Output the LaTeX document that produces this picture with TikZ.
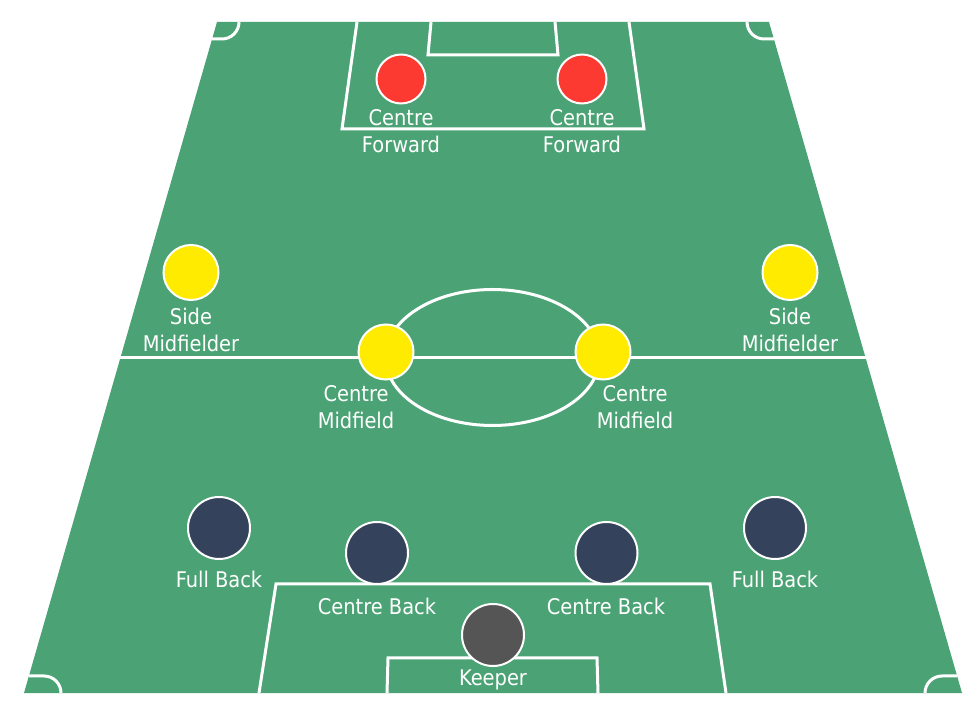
\documentclass[tikz,border=0pt]{standalone}
\usepackage{fontspec}
\setmainfont{DejaVu Sans Condensed}
\usepackage{xcolor}
\usetikzlibrary{calc}
\definecolor{pitchGreen}{HTML}{4BA375}
\definecolor{kitRed}{HTML}{FC3A31}
\definecolor{kitYellow}{HTML}{FFEB00}
\definecolor{kitNavy}{HTML}{35425C}
\definecolor{kitGrey}{HTML}{555555}

\begin{document}
\begin{tikzpicture}[x=0.5pt, y=-0.5pt]
        % Styles
        \tikzstyle{pitchline} = [draw=white, line width=1.5pt]
        \tikzstyle{player} = [circle, draw=white, line width=1pt, inner sep=0pt]
        \tikzstyle{forward} = [player, fill=kitRed, minimum size=24.5pt]
        \tikzstyle{midfield} = [player, fill=kitYellow, minimum size=27.5pt]
        \tikzstyle{defender} = [player, fill=kitNavy, minimum size=31pt]
        \tikzstyle{keeper} = [player, fill=kitGrey, minimum size=31pt]
        \tikzstyle{role} = [text=white, align=center, inner sep=0pt, font=\fontsize{10.8pt}{13.5pt}\selectfont]

        \useasboundingbox (0,0) rectangle (980,715);

        % Pitch
        \coordinate (tl) at (217,22);
        \coordinate (tr) at (769,22);
        \coordinate (br) at (962,693);
        \coordinate (bl) at (24,693);
        \fill[pitchGreen] (tl) -- (tr) -- (br) -- (bl) -- cycle;

        % Markings
        \draw[pitchline] ($(tl)!0.5007!(bl)$) -- ($(tr)!0.5007!(br)$);
        \draw[pitchline] (492.5,357.5) ellipse [x radius=53.5pt, y radius=34pt];
        \draw[pitchline] (357,22) -- (342,129) -- (644,129) -- (629,22);
        \draw[pitchline] (431,22) -- (428,55) -- (558,55) -- (555,22);
        \draw[pitchline] (259,693) -- (276,584) -- (710,584) -- (726,693);
        \draw[pitchline] (387,693) -- (388,658) -- (597,658) -- (598,693);
        \draw[pitchline] (239,22) arc[start angle=0, end angle=-90, radius=8.5pt] -- (212,39);
        \draw[pitchline] (747,22) arc[start angle=180, end angle=270, radius=8.5pt] -- (774,39);
        \draw[pitchline] (61,693) arc[start angle=0, end angle=90, radius=8.5pt] -- (29,676);
        \draw[pitchline] (925,693) arc[start angle=180, end angle=90, radius=8.5pt] -- (957,676);

        % Players
        \node[forward] (fw1) at (401,79) {};
        \node[forward] (fw2) at (582,79) {};
        \node[midfield] (sm1) at (191,272.5) {};
        \node[midfield] (sm2) at (790,272.5) {};
        \node[midfield] (cm1) at (386,352) {};
        \node[midfield] (cm2) at (603,352) {};
        \node[defender] (fb1) at (219,528) {};
        \node[defender] (cb1) at (377,553) {};
        \node[defender] (cb2) at (606.5,553) {};
        \node[defender] (fb2) at (775,528) {};
        \node[keeper] (gk) at (493,635) {};

        % Roles
        \node[role] (fw1txt) at (401,131.3) {Centre\\Forward};
        \node[role] (fw2txt) at (582,131.3) {Centre\\Forward};
        \node[role] (sm1txt) at (191,330.3) {Side\\Midfielder};
        \node[role] (sm2txt) at (790,330.3) {Side\\Midfielder};
        \node[role] (cm1txt) at (356,407.3) {Centre\\Midfield};
        \node[role] (cm2txt) at (635,407.3) {Centre\\Midfield};
        \node[role, anchor=base] (fb1txt) at (219,588) {Full Back};
        \node[role, anchor=base] (cb1txt) at (377,615) {Centre Back};
        \node[role, anchor=base] (cb2txt) at (606,615) {Centre Back};
        \node[role, anchor=base] (fb2txt) at (775,588) {Full Back};
        \node[role, anchor=base] (gktxt) at (493,686) {Keeper};

    \end{tikzpicture}
\end{document}
